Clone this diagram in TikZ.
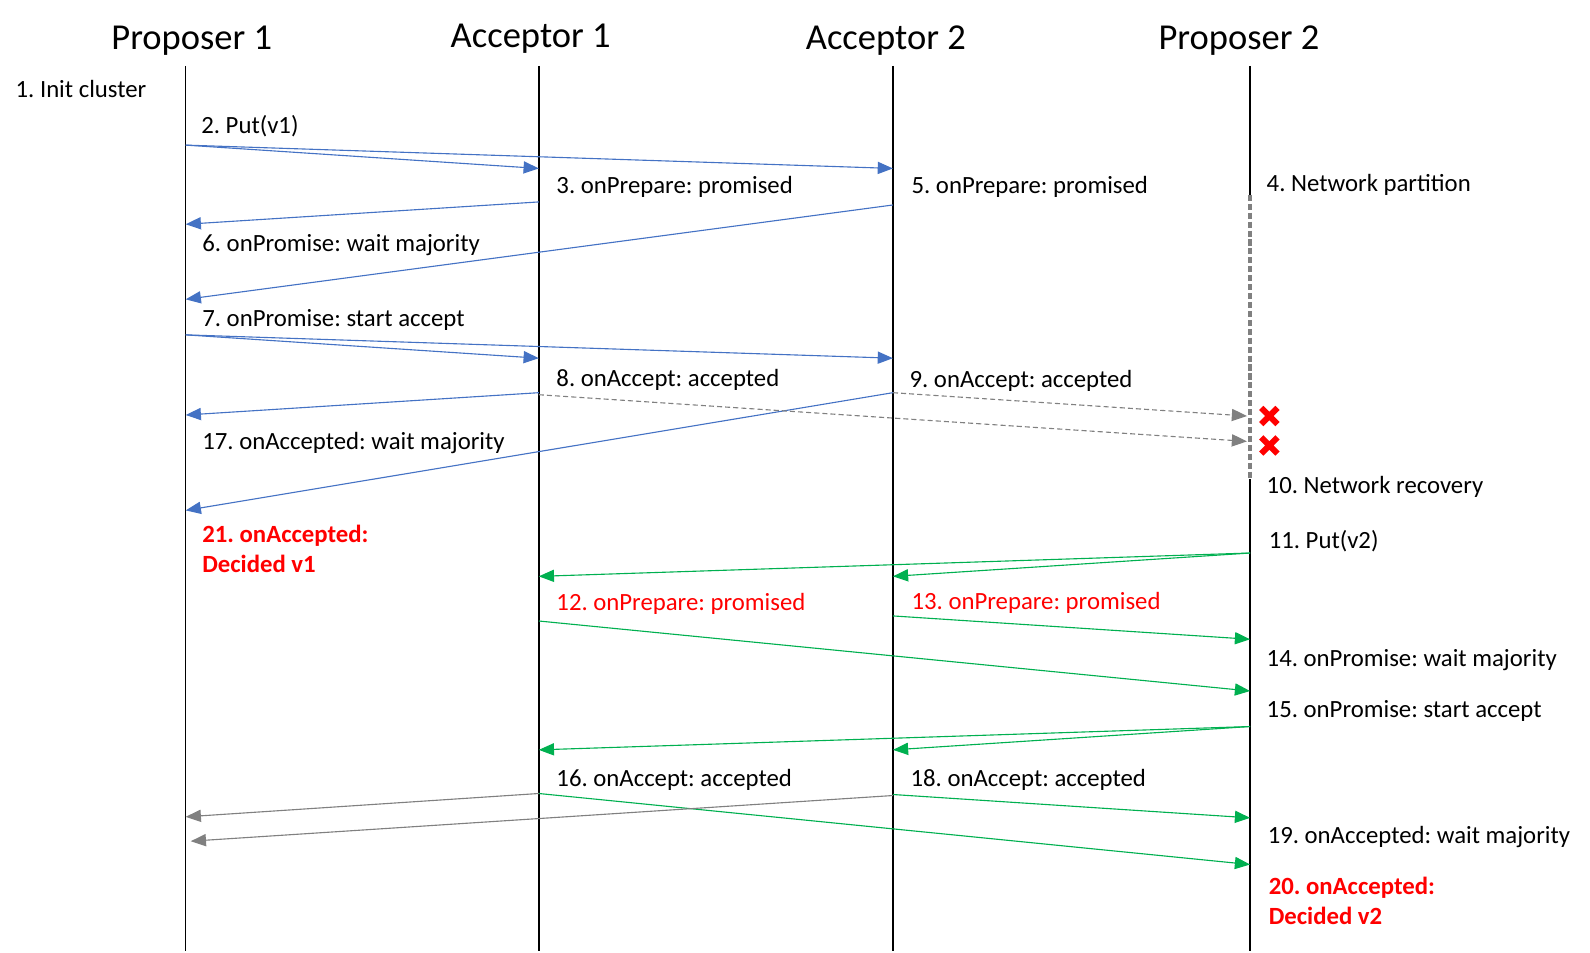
\documentclass[tikz,border=0pt]{standalone}
\usepackage{fontspec}
\setmainfont{Carlito}
\usetikzlibrary{arrows.meta}
\frenchspacing

\definecolor{msgblue}{HTML}{4472C4}
\definecolor{msggreen}{HTML}{00B050}
\definecolor{msggray}{HTML}{808080}

\tikzset{
	lifeline/.style={line width=0.7pt},
	actor/.style={font=\fontsize{18}{20}\selectfont},
	lbl/.style={anchor=west,inner sep=0pt,yshift=-1pt,font=\fontsize{12.2}{14.5}\selectfont},
	msg/.style={line width=0.55pt,-{Triangle[length=7.5pt,width=6pt]}},
	blue msg/.style={msg,msgblue},
	green msg/.style={msg,msggreen},
	gray msg/.style={msg,msggray},
	lost msg/.style={gray msg,dashed,dash pattern=on 2.5pt off 1.5pt},
	decided/.style={lbl,red,font=\fontsize{12.2}{14.5}\selectfont\bfseries,align=left}
}

\begin{document}
\begin{tikzpicture}[x=0.5pt,y=-0.5pt]
		\useasboundingbox (0,0) rectangle (1567,939);
		% lifelines
		\coordinate (L1) at (183,0);
		\coordinate (L2) at (531,0);
		\coordinate (L3) at (880,0);
		\coordinate (L4) at (1232,0);
		\node[actor] (P1) at (189,40) {Proposer 1};
		\node[actor] (A1) at (523,38) {Acceptor 1};
		\node[actor] (A2) at (873,40) {Acceptor 2};
		\node[actor] (P2) at (1221,40) {Proposer 2};
		\foreach \l in {L1,L2,L3}
		\draw[lifeline] (\l |- 0,65) -- (\l |- 0,937);
		\draw[lifeline] (L4 |- 0,65) -- (L4 |- 0,192) (L4 |- 0,472) -- (L4 |- 0,937);
		% partition
		\draw[msggray,line width=1.9pt,dash pattern=on 3pt off 1.4pt] (L4 |- 0,192) -- (L4 |- 0,472);
		% first round
		\foreach \a/\ya/\b/\yb in {L1/143/L2/166, L1/143/L3/166, L2/199/L1/221, L3/202/L1/295,
			L1/330/L2/353, L1/330/L3/353, L2/387/L1/409, L3/387/L1/503}
		\draw[blue msg] (\a |- 0,\ya) -- (\b |- 0,\yb);
		\draw[lost msg] (L3 |- 0,387) -- ([xshift=-1.5pt]L4 |- 0,410);
		\draw[lost msg] (L2 |- 0,389) -- ([xshift=-1.5pt]L4 |- 0,435);
		\foreach \y in {410,439}
		\draw[red,line width=3pt] (1243,\y-8) -- (1259,\y+8) (1243,\y+8) -- (1259,\y-8);
		% second round
		\foreach \a/\ya/\b/\yb in {L4/545/L2/568, L4/545/L3/568, L2/612/L4/681, L3/607/L4/630,
			L4/716/L2/739, L4/716/L3/739, L2/782/L4/852, L3/783/L4/806}
		\draw[green msg] (\a |- 0,\ya) -- (\b |- 0,\yb);
		\draw[gray msg] (L2 |- 0,782) -- (L1 |- 0,805);
		\draw[gray msg] (L3 |- 0,784) -- ([xshift=2.5pt]L1 |- 0,829);
		% labels
		\node[lbl] (s1) at (15,86) {1. Init cluster};
		\node[lbl] (s2) at (198,122) {2. Put(v1)};
		\node[lbl] (s3) at (548,182) {3. onPrepare: promised};
		\node[lbl] (s4) at (1248,180) {4. Network partition};
		\node[lbl] (s5) at (898,182) {5. onPrepare: promised};
		\node[lbl] (s6) at (199,240) {6. onPromise: wait majority};
		\node[lbl] (s7) at (199,313) {7. onPromise: start accept};
		\node[lbl] (s8) at (548,372) {8. onAccept: accepted};
		\node[lbl] (s9) at (896,373) {9. onAccept: accepted};
		\node[lbl] (s17) at (199,435) {17. onAccepted: wait majority};
		\node[lbl] (s10) at (1248,478) {10. Network recovery};
		\node[decided] (s21) at (199,539) {21. onAccepted:\\Decided v1};
		\node[lbl] (s11) at (1250,531) {11. Put(v2)};
		\node[lbl,red] (s12) at (548,593) {12. onPrepare: promised};
		\node[lbl,red] (s13) at (898,592) {13. onPrepare: promised};
		\node[lbl] (s14) at (1248,649) {14. onPromise: wait majority};
		\node[lbl] (s15) at (1248,699) {15. onPromise: start accept};
		\node[lbl] (s16) at (548,767) {16. onAccept: accepted};
		\node[lbl] (s18) at (897,767) {18. onAccept: accepted};
		\node[lbl] (s19) at (1249,823) {19. onAccepted: wait majority};
		\node[decided] (s20) at (1250,886) {20. onAccepted:\\Decided v2};
	\end{tikzpicture}
\end{document}
